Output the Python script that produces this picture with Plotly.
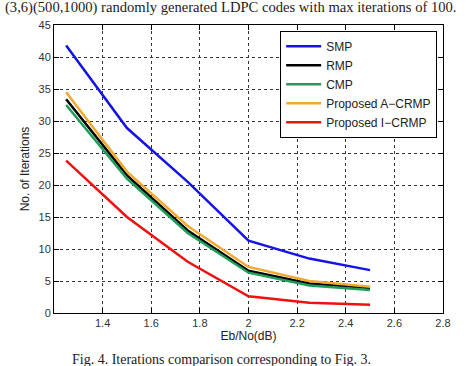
import plotly.graph_objects as go

ebno = [1.25, 1.5, 1.75, 2.0, 2.25, 2.5]
smp = [41.8, 28.9, 20.5, 11.3, 8.5, 6.7]
rmp = [33.4, 21.5, 12.9, 6.6, 4.6, 3.9]
cmp_ = [32.5, 21.0, 12.5, 6.3, 4.3, 3.6]
a_crmp = [34.5, 22.1, 13.6, 7.2, 5.0, 4.1]
i_crmp = [23.8, 15.0, 8.0, 2.6, 1.6, 1.3]

names = ["SMP", "RMP", "CMP", "Proposed A\u2212CRMP", "Proposed I\u2212CRMP"]
series = [smp, rmp, cmp_, a_crmp, i_crmp]
colors = ["#1414e6", "#000000", "#1e9e5a", "#f2aa2e", "#f01010"]

x_ticks = [1.4, 1.6, 1.8, 2.0, 2.2, 2.4, 2.6, 2.8]
x_tick_text = ["1.4", "1.6", "1.8", "2", "2.2", "2.4", "2.6", "2.8"]
y_ticks = [0, 5, 10, 15, 20, 25, 30, 35, 40, 45]

fig = go.Figure()
for n, s, c in zip(names, series, colors):
    fig.add_trace(go.Scatter(x=ebno, y=s, name=n, mode="lines",
                             line=dict(color=c, width=2.5)))

sans = "Arial, Liberation Sans, sans-serif"
axis_common = dict(showline=True, linecolor="#000", linewidth=1, mirror="ticks",
                   ticks="inside", ticklen=5, tickcolor="#000",
                   showgrid=True, gridcolor="#333", griddash="dot", gridwidth=1,
                   zeroline=False, automargin=False,
                   tickfont=dict(family=sans, size=11, color="#333"))

fig.update_xaxes(range=[1.2, 2.8], tickvals=x_ticks, ticktext=x_tick_text,
                 title=dict(text="Eb/No(dB)", standoff=0,
                            font=dict(family=sans, size=12, color="#222")),
                 **axis_common)
fig.update_yaxes(range=[0, 45], tickvals=y_ticks,
                 title=dict(text="No. of Iterations", standoff=6,
                            font=dict(family=sans, size=12, color="#222")),
                 **axis_common)

fig.update_layout(
    width=474, height=366,
    margin=dict(l=54, r=31, t=25, b=53),
    plot_bgcolor="white", paper_bgcolor="white",
    showlegend=True,
    legend=dict(x=0.985, y=0.98, xanchor="right", yanchor="top",
                bgcolor="white", bordercolor="#000", borderwidth=1,
                font=dict(family=sans, size=12, color="#222"),
                tracegroupgap=0, itemwidth=35),
    annotations=[
        dict(text="(3,6)(500,1000) randomly generated LDPC codes with max iterations of 100.",
             xref="paper", yref="paper", x=0.455, y=1, yshift=18, xanchor="center", yanchor="middle",
             showarrow=False,
             font=dict(family="Liberation Serif, Times New Roman, serif", size=14.6, color="#222")),
        dict(text="Fig. 4. Iterations comparison corresponding to Fig. 3.",
             xref="paper", yref="paper", x=0.04, y=0, yshift=-46, xanchor="left", yanchor="middle",
             showarrow=False,
             font=dict(family="Liberation Serif, Times New Roman, serif", size=14, color="#222")),
    ],
)

fig.write_html("out.html", config={"displayModeBar": False},
               post_script="document.body.style.margin='0';document.body.style.overflow='hidden';")
